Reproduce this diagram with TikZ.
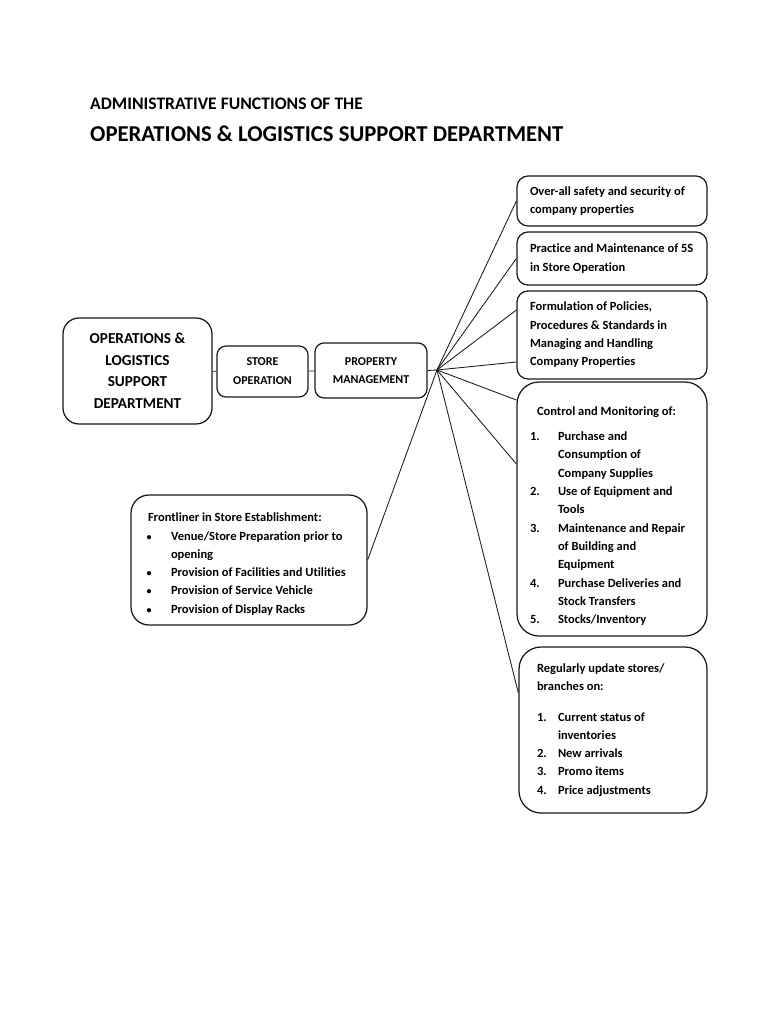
\documentclass[tikz,border=0pt]{standalone}
\usepackage{fontspec}
\setmainfont{Carlito}[Ligatures=NoCommon]
\usetikzlibrary{positioning}
\usetikzlibrary{calc}

% list rows: label width, label, text
\newcommand{\itemrow}[3]{\makebox[#1][l]{#2}#3}
\newcommand{\controw}[2]{\hspace*{#1}#2}
\newcommand{\smallbullet}{{\fontsize{10}{10}\selectfont\textbullet}}

\begin{document}
\begin{tikzpicture}[x=1pt,y=-1pt,
% Box styles
    box/.style={rectangle,draw=black!90,line width=1.25pt,inner sep=0pt,
		font=\bfseries\fontsize{12.5}{18.3}\selectfont},
    duty/.style={box,rounded corners=11pt,align=flush left,text width=164pt,
		minimum width=190pt},
    bigduty/.style={box,rounded corners=22pt,align=flush left},
    chain/.style={box,rounded corners=9pt,align=flush center,
		font=\bfseries\fontsize{12}{19}\selectfont},
% Connector style
    link/.style={draw=black!90,line width=0.85pt}
    ]

  \useasboundingbox (0,0) rectangle (768,1024);

  % titles
  \node (t1) [anchor=base west,inner sep=0pt,font=\bfseries\fontsize{17.6}{20}\selectfont]
    at (90,110) {ADMINISTRATIVE FUNCTIONS OF THE};
  \node (t2) [anchor=base west,inner sep=0pt,font=\bfseries\fontsize{22.7}{26}\selectfont]
    at (90,142) {OPERATIONS \& LOGISTICS SUPPORT DEPARTMENT};

  % chain on the left
  \node (ops) [chain,rounded corners=16pt,minimum width=149pt,minimum height=106pt,
    font=\bfseries\fontsize{15.2}{21.5}\selectfont] at (137.5,371)
    {OPERATIONS \&\\LOGISTICS\\SUPPORT\\DEPARTMENT};
  \node (store) [chain,minimum width=91pt,minimum height=51pt] at (262.5,371.5)
    {STORE\\OPERATION};
  \node (prop) [chain,minimum width=112pt,minimum height=55pt,
    font=\bfseries\fontsize{12}{17.5}\selectfont] at (371,370.5)
    {PROPERTY\\MANAGEMENT};
  \coordinate (hub) at (437,370);

  % duties on the right
  \node (safety) [duty,minimum height=50pt] at (612,201)
    {Over-all safety and security of\\company properties};
  \node (fives) [duty,minimum height=53pt] at (612,258.5)
    {Practice and Maintenance of 5S\\in Store Operation};
  \node (policy) [duty,minimum height=88pt] at (612,335)
    {Formulation of Policies,\\Procedures \& Standards in\\Managing and Handling\\Company Properties};
  \node (control) [bigduty,text width=164pt,minimum width=190pt,minimum height=254pt] at (612,509)
    {\rule{0pt}{23pt}\hspace*{7pt}Control and Monitoring of:\\[7pt]
     \itemrow{28pt}{1.}{Purchase and}\\
     \controw{28pt}{Consumption of}\\
     \controw{28pt}{Company Supplies}\\
     \itemrow{28pt}{2.}{Use of Equipment and}\\
     \controw{28pt}{Tools}\\
     \itemrow{28pt}{3.}{Maintenance and Repair}\\
     \controw{28pt}{of Building and}\\
     \controw{28pt}{Equipment}\\
     \itemrow{28pt}{4.}{Purchase Deliveries and}\\
     \controw{28pt}{Stock Transfers}\\
     \itemrow{28pt}{5.}{Stocks/Inventory}};
  \node (update) [bigduty,text width=152pt,minimum width=188pt,minimum height=166pt] at (613,730)
    {Regularly update stores/\\branches on:\\[12pt]
     \itemrow{21pt}{1.}{Current status of}\\
     \controw{21pt}{inventories}\\
     \itemrow{21pt}{2.}{New arrivals}\\
     \itemrow{21pt}{3.}{Promo items}\\
     \itemrow{21pt}{4.}{Price adjustments}};

  % frontliner box
  \node (front) [bigduty,rounded corners=18pt,text width=202pt,minimum width=236pt,minimum height=130pt] at (249,560)
    {\rule{0pt}{17pt}Frontliner in Store Establishment:\\
     \itemrow{23pt}{\hspace*{-1.5pt}\smallbullet}{Venue/Store Preparation prior to}\\
     \controw{23pt}{opening}\\
     \itemrow{23pt}{\hspace*{-1.5pt}\smallbullet}{Provision of Facilities and Utilities}\\
     \itemrow{23pt}{\hspace*{-1.5pt}\smallbullet}{Provision of Service Vehicle}\\
     \itemrow{23pt}{\hspace*{-1.5pt}\smallbullet}{Provision of Display Racks}};

  % connectors
  \draw[link] (ops) -- (store);
  \draw[link] (store) -- (prop);
  \draw[link] (prop.east) -- (hub);
  \draw[link] (hub) -- (safety.west);
  \draw[link] (hub) -- (fives.west);
  \draw[link] (hub) -- ([yshift=25pt]policy.west);
  \draw[link] (hub) -- ([yshift=-27pt]policy.west);
  \draw[link] (hub) -- ([yshift=109pt]control.west);
  \draw[link] (hub) -- ([yshift=45pt]control.west);
  \draw[link] (hub) -- ([yshift=37pt]update.west);
  \draw[link] (hub) -- (front.east);

\end{tikzpicture}
\end{document}
